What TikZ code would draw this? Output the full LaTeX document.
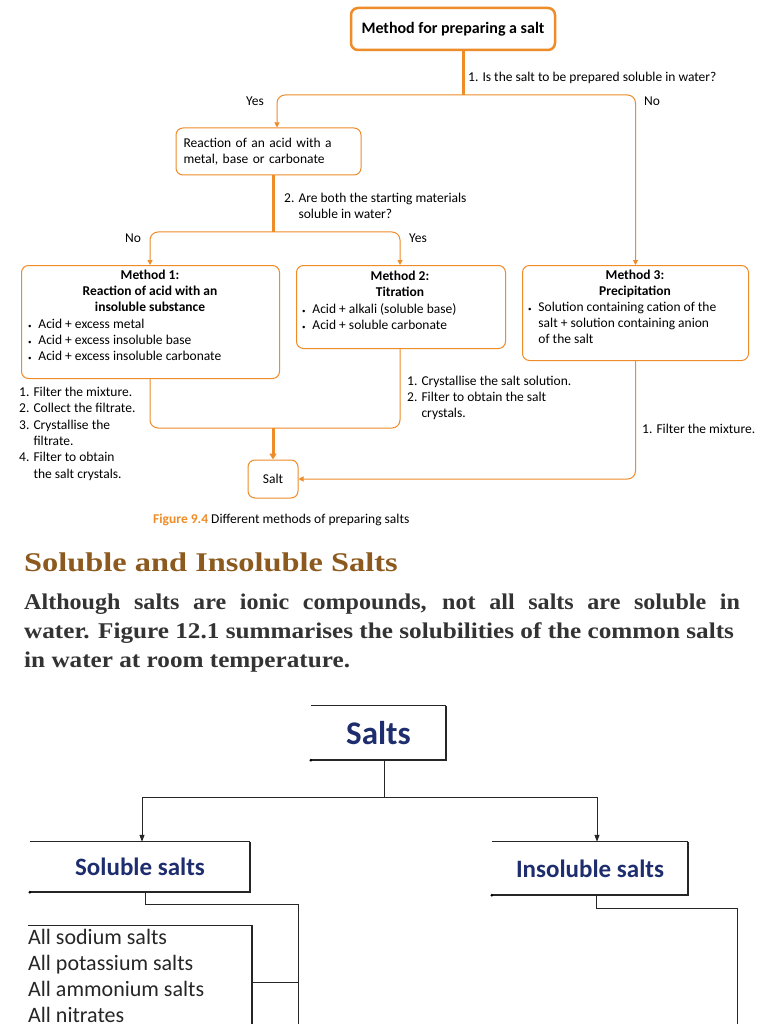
\documentclass[tikz,border=0pt]{standalone}
\usepackage{fontspec}
\usepackage{graphicx}
\setmainfont{Carlito}
\newfontfamily\serifb{Liberation Serif}
\usetikzlibrary{arrows.meta}
\definecolor{org}{RGB}{238,140,40}
\definecolor{navy}{RGB}{30,45,110}
\definecolor{brn}{RGB}{140,90,30}
\newcommand{\bul}{{\scriptsize\textbullet}\enspace}
\begin{document}
\begin{tikzpicture}[x=1pt,y=-1pt,
  obox/.style={draw=org,line width=1pt,rounded corners=7pt,fill=white,inner sep=0pt},
  thk/.style={draw=org,line width=3pt},
  thn/.style={draw=org,line width=1pt,rounded corners=8pt},
  oarr/.style={-{Triangle[length=5pt,width=5pt,fill=org]}},
  ft/.style={font=\fontsize{13.5}{16}\selectfont},
  ftb/.style={font=\fontsize{13.5}{16}\selectfont\bfseries},
  lab/.style={anchor=west,ft,inner sep=0pt},
  sbox/.style={fill=white,inner sep=0pt},
  bl/.style={draw=black!85,line width=1pt},
  barr/.style={-{Triangle[length=7pt,width=5pt]}}]
\useasboundingbox (0,0) rectangle (768,1024);
\fill[white] (0,0) rectangle (768,1024);
% ---------- top flowchart
\node[obox,line width=2.5pt,minimum width=204pt,minimum height=42pt,font=\fontsize{16}{18}\selectfont\bfseries] (top) at (453,29) {Method for preparing a salt};
\node[obox,minimum width=185pt,minimum height=47pt,align=left,ft,text width=170pt] (react) at (268.5,151.5) {Reaction of an acid with a\\metal, base or carbonate};
\node[obox,minimum width=258pt,minimum height=113pt,anchor=north west] (m1) at (21,265) {};
\node[align=center,ftb,anchor=north,inner sep=0pt] (m1t) at (150,270) {Method 1:\\Reaction of acid with an\\insoluble substance};
\node[anchor=north west,align=left,ft,inner sep=0pt] (m1b) at (28,319) {\bul Acid + excess metal\\\bul Acid + excess insoluble base\\\bul Acid + excess insoluble carbonate};
\node[obox,minimum width=209pt,minimum height=83pt,anchor=north west] (m2) at (296,265) {};
\node[align=center,ftb,anchor=north,inner sep=0pt] (m2t) at (400,271) {Method 2:\\Titration};
\node[anchor=north west,align=left,ft,inner sep=0pt] (m2b) at (302,303) {\bul Acid + alkali (soluble base)\\\bul Acid + soluble carbonate};
\node[obox,minimum width=226pt,minimum height=95pt,anchor=north west] (m3) at (522,265) {};
\node[align=center,ftb,anchor=north,inner sep=0pt] (m3t) at (635,270) {Method 3:\\Precipitation};
\node[anchor=north west,align=left,ft,inner sep=0pt] (m3b) at (528,302) {\bul Solution containing cation of the\\\phantom{\bul}salt + solution containing anion\\\phantom{\bul}of the salt};
\node[obox,minimum width=50pt,minimum height=38pt,ft] (salt) at (273,479) {Salt};
% connectors
\coordinate (j1) at (463,95);
\coordinate (j2) at (273,232);
\coordinate (j3) at (273,428);
\draw[thk] (top.south -| j1) -- (j1);
\draw[thn,oarr] (j1) -| (react.north -| 277,0);
\draw[thn,oarr] (j1) -| (m3.north);
\draw[thk] (react.south -| j2) -- (j2);
\draw[thn,oarr] (j2) -| (m1.north -| 150,0);
\draw[thn,oarr] (j2) -| (m2.north -| 400,0);
\draw[thn] (m1.south -| 150,0) |- (j3);
\draw[thn] (m2.south -| 400,0) |- (j3);
\draw[thk,-{Triangle[length=6pt,width=7pt]},org] (j3) -- (salt.north);
\draw[thn,oarr] (m3.south) |- (salt.east);
% labels
\node[lab] (q1) at (468,78) {1. Is the salt to be prepared soluble in water?};
\node[lab] (y1) at (246,101) {Yes};
\node[lab] (n1) at (644,101) {No};
\node[lab,anchor=north west,align=left] (q2) at (284,193) {2. Are both the starting materials\\\phantom{2. }soluble in water?};
\node[lab] (n2) at (125,238) {No};
\node[lab] (y2) at (409,238) {Yes};
\node[lab,anchor=north west,align=left,font=\fontsize{13.5}{16.3}\selectfont] (s1) at (19,387) {1. Filter the mixture.\\2. Collect the filtrate.\\3. Crystallise the\\\phantom{3. }filtrate.\\4. Filter to obtain\\\phantom{4. }the salt crystals.};
\node[lab,anchor=north west,align=left] (s2) at (407,376) {1. Crystallise the salt solution.\\2. Filter to obtain the salt\\\phantom{2. }crystals.};
\node[lab] (s3) at (642,429) {1. Filter the mixture.};
\node[lab,font=\fontsize{13.5}{15}\selectfont] (cap) at (153,520) {\textcolor{org}{\bfseries Figure 9.4} Different methods of preparing salts};
% ---------- text
\node[anchor=west,inner sep=0pt,font=\serifb\fontsize{27}{30}\selectfont\bfseries,text=brn] (head) at (24,562) {\scalebox{1.2}[1]{Soluble and Insoluble Salts}};
\node[anchor=north west,inner sep=0pt,align=left,font=\serifb\fontsize{22.5}{29}\selectfont\bfseries,text=black!80] (para) at (24,594) {\scalebox{1.07}[1]{\makebox[669pt][s]{Although salts are ionic compounds, not all salts are soluble in}}\\\scalebox{1.12}[1]{water. Figure 12.1 summarises the solubilities of the common salts}\\\scalebox{1.12}[1]{in water at room temperature.}};
% ---------- bottom chart
\node[sbox,minimum width=135pt,minimum height=54pt,font=\fontsize{33}{36}\selectfont\bfseries,text=navy] (salts) at (378.5,733) {Salts};
\draw[bl,line width=0.8pt] (salts.north west) -- (salts.north east);
\draw[bl,line width=2.2pt] (salts.north east) -- (salts.south east) -- (salts.south west);
\fill (salts.south west) circle (1.5pt);
\node[sbox,minimum width=220pt,minimum height=50pt,font=\fontsize{25}{27}\selectfont\bfseries,text=navy] (sol) at (140,867) {Soluble salts};
\draw[bl,line width=0.8pt] (sol.north west) -- (sol.north east);
\draw[bl,line width=2.2pt] (sol.north east) -- (sol.south east) -- (sol.south west);
\fill (sol.south west) circle (1.5pt);
\node[sbox,minimum width=196pt,minimum height=53pt,font=\fontsize{25}{27}\selectfont\bfseries,text=navy] (ins) at (590,868.5) {Insoluble salts};
\draw[bl,line width=0.8pt] (ins.north west) -- (ins.north east);
\draw[bl,line width=2.2pt] (ins.north east) -- (ins.south east) -- (ins.south west);
\fill (ins.south west) circle (1.5pt);
\coordinate (b1) at (384,797);
\draw[bl] (salts.south -| b1) -- (b1);
\draw[bl,barr] (b1) -| (sol.north -| 142,0);
\draw[bl,barr] (b1) -| (ins.north -| 597,0);
% list box
\coordinate (lbtl) at (28,925);
\coordinate (lbtr) at (252,925);
\coordinate (lbbr) at (252,1030);
\draw[bl,line width=0.8pt] (lbtl) -- (lbtr);
\draw[bl,line width=2.2pt] (lbtr) -- (lbbr);
\node[anchor=north west,inner sep=0pt,align=left,font=\fontsize{22}{26}\selectfont,text=black!85] (list) at (28,929) {All sodium salts\\All potassium salts\\All ammonium salts\\All nitrates};
\coordinate (c1) at (145,904);
\coordinate (c2) at (298,904);
\coordinate (c3) at (298,1030);
\draw[bl] (sol.south -| c1) -- (c1) -- (c2) -- (c3);
\draw[bl] (252,982) -- (c2 |- 0,982);
\coordinate (d1) at (596,908);
\coordinate (d2) at (737,908);
\coordinate (d3) at (737,1030);
\draw[bl] (ins.south -| d1) -- (d1) -- (d2) -- (d3);
\end{tikzpicture}
\end{document}
